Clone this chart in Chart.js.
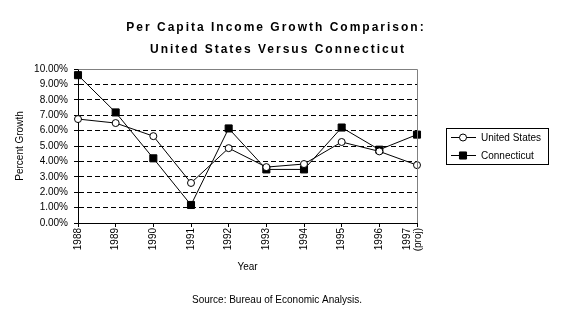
<!DOCTYPE html>
<html>
<head>
<meta charset="utf-8">
<script src="https://cdn.jsdelivr.net/npm/chart.js@4/dist/chart.umd.min.js"></script>
<style>
    html, body { margin: 0; padding: 0; background: #fff; }
    #wrap { width: 569px; height: 316px; }
</style>
</head>
<body>
<div id="wrap"><canvas id="chart" width="569" height="316"></canvas></div>
<script>
'use strict';

// values (percent)
const years = ['1988', '1989', '1990', '1991', '1992', '1993', '1994', '1995', '1996', ['1997', '(proj)']];
const usGrowth = [6.75, 6.49, 5.64, 2.60, 4.86, 3.63, 3.83, 5.26, 4.65, 3.76];
const ctGrowth = [9.60, 7.18, 4.20, 1.17, 6.14, 3.48, 3.48, 6.20, 4.76, 5.74];
const yTicks = [0, 1, 2, 3, 4, 5, 6, 7, 8, 9, 10];

const titleLines = ['Per Capita Income Growth Comparison:', 'United States Versus Connecticut'];
const sourceText = 'Source: Bureau of Economic Analysis.';

const FONT = 'Arial, "Liberation Sans", sans-serif';

// the two-line "1997 (proj)" label sits to the left of its tick in the original
const projLabelShift = {
    id: 'projLabelShift',
    beforeDraw(chart) {
        const items = chart.scales.x.getLabelItems(chart.chartArea);
        const last = items[items.length - 1];
        if (last && !last._shifted) {
            last.options.translation[0] -= 10;
            last._shifted = true;
        }
    }
};

// frame (gray top/right), titles, source and boxed legend
const decorations = {
    id: 'decorations',
    afterDraw(chart) {
        const ctx = chart.ctx;
        const area = chart.chartArea;

        ctx.save();
        ctx.strokeStyle = '#808080';
        ctx.lineWidth = 1;
        ctx.beginPath();
        ctx.moveTo(Math.round(area.left) + 0.5, Math.round(area.top) + 0.5);
        ctx.lineTo(Math.round(area.right) + 0.5, Math.round(area.top) + 0.5);
        ctx.lineTo(Math.round(area.right) + 0.5, Math.round(area.bottom));
        ctx.stroke();

        // title
        ctx.fillStyle = '#000';
        ctx.textAlign = 'center';
        ctx.textBaseline = 'middle';
        ctx.font = 'bold 12px ' + FONT;
        ctx.letterSpacing = '2px';
        ctx.fillText(titleLines[0], 276, 28);
        ctx.fillText(titleLines[1], 278, 50);
        ctx.letterSpacing = '0px';

        // source note
        ctx.font = '10px ' + FONT;
        ctx.fillText(sourceText, 277, 300);

        // legend
        const box = { x: 446, y: 128, w: 102, h: 36 };
        ctx.strokeStyle = '#000';
        ctx.strokeRect(box.x + 0.5, box.y + 0.5, box.w, box.h);
        ctx.textAlign = 'left';
        chart.data.datasets.forEach(function (ds, i) {
            const cy = box.y + 9 + i * 18;
            ctx.strokeStyle = ds.borderColor;
            ctx.lineWidth = 1;
            ctx.beginPath();
            ctx.moveTo(box.x + 5, cy + 0.5);
            ctx.lineTo(box.x + 30, cy + 0.5);
            ctx.stroke();
            ctx.fillStyle = ds.pointBackgroundColor;
            ctx.strokeStyle = ds.pointBorderColor;
            Chart.helpers.drawPoint(ctx, {
                pointStyle: ds.pointStyle,
                radius: ds.pointRadius,
                borderWidth: 1,
                rotation: 0
            }, box.x + 17, cy + 0.5);
            ctx.fillStyle = '#000';
            ctx.font = '10px ' + FONT;
            ctx.fillText(ds.label, box.x + 35, cy + 1);
        });
        ctx.restore();
    }
};

const config = {
    type: 'line',
    data: {
        labels: years,
        datasets: [{
            label: 'United States',
            data: usGrowth,
            borderColor: '#000',
            borderWidth: 1,
            pointStyle: 'circle',
            pointRadius: 3.5,
            pointBackgroundColor: '#fff',
            pointBorderColor: '#000',
            pointBorderWidth: 1,
            tension: 0
        }, {
            label: 'Connecticut',
            data: ctGrowth,
            borderColor: '#000',
            borderWidth: 1,
            pointStyle: 'rect',
            pointRadius: 5,
            pointBackgroundColor: '#000',
            pointBorderColor: '#000',
            pointBorderWidth: 1,
            tension: 0
        }]
    },
    options: {
        responsive: false,
        animation: false,
        layout: { padding: { top: 69, left: 0, right: 152, bottom: 40 } },
        plugins: {
            legend: { display: false },
            tooltip: { enabled: false }
        },
        scales: {
            x: {
                type: 'category',
                offset: false,
                afterFit: function (scale) { scale.height = 53; },
                grid: {
                    drawOnChartArea: false,
                    drawTicks: true,
                    tickLength: 4,
                    tickColor: '#000'
                },
                border: { display: true, color: '#000', width: 1 },
                ticks: {
                    autoSkip: false,
                    minRotation: 90,
                    maxRotation: 90,
                    padding: 1,
                    color: '#000',
                    font: { family: FONT, size: 10, lineHeight: 1.1 }
                },
                title: {
                    display: true,
                    text: 'Year',
                    color: '#000',
                    font: { family: FONT, size: 10 },
                    padding: { top: 0, bottom: 3 }
                }
            },
            y: {
                min: 0,
                max: 10,
                afterFit: function (scale) { scale.width = 78; },
                afterBuildTicks: function (scale) {
                    scale.ticks = yTicks.map(function (v) { return { value: v }; });
                },
                grid: {
                    color: function (c) {
                        const v = c.tick && c.tick.value;
                        return (v === 0 || v === 10) ? 'rgba(0,0,0,0)' : '#000';
                    },
                    tickColor: '#000',
                    tickLength: 4,
                    lineWidth: 1
                },
                border: { display: true, color: '#000', width: 1, dash: [5, 3] },
                ticks: {
                    padding: 6,
                    color: '#000',
                    font: { family: FONT, size: 10 },
                    callback: function (v) { return v.toFixed(2) + '%'; }
                },
                title: {
                    display: true,
                    text: 'Percent Growth',
                    color: '#000',
                    font: { family: FONT, size: 10 },
                    padding: { top: 14, bottom: 0 }
                }
            }
        }
    },
    plugins: [projLabelShift, decorations]
};

new Chart(document.getElementById('chart').getContext('2d'), config);
</script>
</body>
</html>
